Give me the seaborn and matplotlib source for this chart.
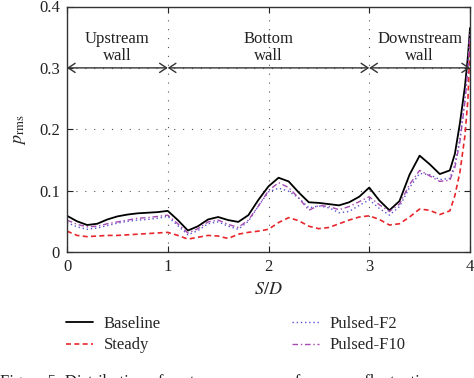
import numpy as np
import pandas as pd
import matplotlib
matplotlib.use('Agg')
import matplotlib.pyplot as plt
import seaborn as sns

# S/D positions (common grid for all series)
sd = [0.0, 0.1, 0.2, 0.3, 0.4, 0.5, 0.6, 0.7, 0.8, 0.9,
      1.0, 1.1, 1.2, 1.3, 1.4, 1.5, 1.6, 1.7, 1.8, 1.9,
      2.0, 2.1, 2.2, 2.3, 2.4, 2.5, 2.6, 2.7, 2.8, 2.9,
      3.0, 3.1, 3.2, 3.3, 3.4, 3.5, 3.6, 3.7, 3.8, 3.85,
      3.9, 3.95, 3.98, 4.0]

baseline = [0.059, 0.050, 0.044, 0.046, 0.053, 0.058, 0.061, 0.063, 0.064, 0.065,
            0.067, 0.052, 0.035, 0.042, 0.053, 0.057, 0.052, 0.049, 0.060, 0.085,
            0.107, 0.121, 0.115, 0.097, 0.081, 0.080, 0.078, 0.076, 0.081, 0.090,
            0.105, 0.084, 0.068, 0.083, 0.126, 0.157, 0.143, 0.127, 0.133, 0.160,
            0.210, 0.270, 0.320, 0.365]

steady = [0.034, 0.027, 0.025, 0.026, 0.027, 0.027, 0.028, 0.029, 0.030, 0.031,
          0.032, 0.027, 0.021, 0.024, 0.027, 0.026, 0.022, 0.029, 0.032, 0.034,
          0.037, 0.048, 0.056, 0.051, 0.042, 0.038, 0.040, 0.046, 0.052, 0.057,
          0.059, 0.053, 0.044, 0.046, 0.057, 0.070, 0.068, 0.061, 0.067, 0.092,
          0.130, 0.190, 0.250, 0.340]

pulsed_f2 = [0.048, 0.041, 0.037, 0.039, 0.043, 0.047, 0.050, 0.052, 0.053, 0.055,
             0.058, 0.043, 0.028, 0.035, 0.046, 0.049, 0.042, 0.037, 0.050, 0.075,
             0.098, 0.104, 0.099, 0.088, 0.072, 0.075, 0.072, 0.064, 0.066, 0.076,
             0.085, 0.071, 0.060, 0.074, 0.105, 0.128, 0.126, 0.118, 0.120, 0.143,
             0.185, 0.250, 0.300, 0.360]

pulsed_f10 = [0.052, 0.045, 0.041, 0.042, 0.046, 0.049, 0.052, 0.055, 0.056, 0.058,
              0.060, 0.046, 0.031, 0.038, 0.049, 0.052, 0.045, 0.040, 0.052, 0.075,
              0.100, 0.113, 0.105, 0.088, 0.068, 0.076, 0.074, 0.069, 0.074, 0.082,
              0.090, 0.077, 0.066, 0.078, 0.110, 0.133, 0.124, 0.115, 0.117, 0.138,
              0.180, 0.245, 0.300, 0.360]

series_names = ['Baseline', 'Steady', 'Pulsed-F2', 'Pulsed-F10']
x_ticks = [0, 1, 2, 3, 4]
y_ticks = [0, 0.1, 0.2, 0.3, 0.4]
y_tick_labels = ['0', '0.1', '0.2', '0.3', '0.4']

# wall regions: (start, end, label)
regions = [(0, 1, 'Upstream\nwall'), (1, 3, 'Bottom\nwall'), (3, 4, 'Downstream\nwall')]

sns.set_style('ticks')
plt.rcParams['font.family'] = ['Liberation Serif', 'DejaVu Serif']
plt.rcParams['mathtext.fontset'] = 'stix'
plt.rcParams['font.size'] = 12

df = pd.DataFrame({'S/D': sd, 'Baseline': baseline, 'Steady': steady,
                   'Pulsed-F2': pulsed_f2, 'Pulsed-F10': pulsed_f10})

styles = {
    'Baseline': dict(color='black', linestyle='-', linewidth=1.3),
    'Steady': dict(color='#e8262b', linestyle=(0, (3, 2)), linewidth=1.2),
    'Pulsed-F2': dict(color='#5a55cf', linestyle=(0, (1, 2)), linewidth=1.0),
    'Pulsed-F10': dict(color='#a64bb0', linestyle=(0, (4, 2, 1, 2)), linewidth=1.0),
}

fig = plt.figure(figsize=(4.74, 3.78), dpi=100)
ax = fig.add_axes([67 / 474, 1 - 252 / 378, 403 / 474, 245.5 / 378])

for name in series_names:
    sns.lineplot(data=df, x='S/D', y=name, ax=ax, label=name, **styles[name])

ax.set_xlim(0, 4)
ax.set_ylim(0, 0.4)
ax.set_xticks(x_ticks)
ax.set_yticks(y_ticks)
ax.set_yticklabels(y_tick_labels)
ax.tick_params(direction='in', length=4, width=0.8, top=True, right=True,
               labelsize=12, colors='#222222', pad=5)
ax.grid(True, linestyle=(0, (1, 7)), color='#555555', linewidth=0.8)
for sp in ax.spines.values():
    sp.set_color('#333333')
    sp.set_linewidth(1.0)

ax.set_xlabel('$S/D$', fontsize=13, labelpad=4)
ax.set_ylabel(r'$p_{\mathrm{rms}}$', fontsize=13, labelpad=8)

# wall region arrows and labels
for x0, x1, lbl in regions:
    ax.annotate('', xy=(x0, 0.3), xytext=(x1, 0.3),
                arrowprops=dict(arrowstyle='<->,head_length=0.45,head_width=0.3',
                                color='#333333', lw=1.0, shrinkA=0, shrinkB=0,
                                mutation_scale=11))
    ax.text((x0 + x1) / 2, 0.333, lbl, ha='center', va='center',
            fontsize=12, linespacing=1.1, color='#222222')

handles, labels = ax.get_legend_handles_labels()
if ax.get_legend() is not None:
    ax.get_legend().remove()
fig.legend(handles, labels, loc='upper left', bbox_to_anchor=(66 / 474, 1 - 316 / 378),
           ncol=2, frameon=False, fontsize=12, handlelength=1.6,
           handletextpad=0.65, columnspacing=7.9, labelspacing=0.32,
           borderpad=0, borderaxespad=0)

fig.text(0.0, -0.022, 'Figure 5: Distribution of root mean square of pressure fluctuation',
         fontsize=12, ha='left', va='baseline', color='#222222')

fig.savefig('out.png', dpi=100)
